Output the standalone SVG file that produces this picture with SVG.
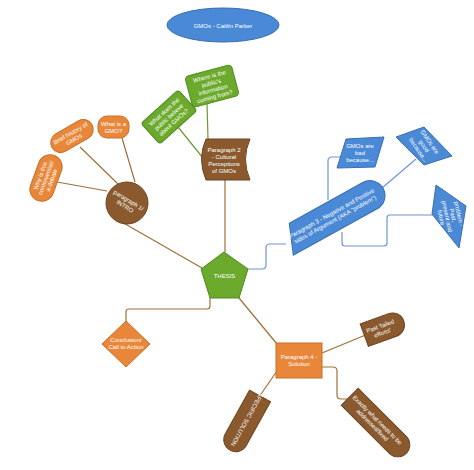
<svg xmlns="http://www.w3.org/2000/svg" width="474" height="470" viewBox="0 0 474 470">
<style>
text{font-family:"Liberation Sans",Arial,sans-serif;fill:#fff;text-anchor:middle;font-size:6px}
.or{fill:#E8873A;stroke:#C96E25;stroke-width:1}
.br{fill:#8A5A2E;stroke:#6E4420;stroke-width:1}
.gr{fill:#6BAA2C;stroke:#4F8A1C;stroke-width:1}
.bl{fill:#4A89D6;stroke:#3A6FB0;stroke-width:1}
.cb{fill:none;stroke:#A07038;stroke-width:1.2}
.cg{fill:none;stroke:#6A9A38;stroke-width:1.2}
.cu{fill:none;stroke:#6E94D8;stroke-width:1.2}
</style>
<rect width="474" height="470" fill="#fff"/>
<g id="connectors">
<line class="cb" x1="135" y1="182" x2="122" y2="138"/>
<line class="cb" x1="118" y1="184" x2="80" y2="147"/>
<line class="cb" x1="107" y1="191" x2="57" y2="182"/>
<line class="cb" x1="120" y1="221" x2="202" y2="268"/>
<line class="cg" x1="208" y1="139" x2="207" y2="103"/>
<line class="cg" x1="203" y1="158" x2="178" y2="127"/>
<line class="cb" x1="225" y1="180" x2="225" y2="252"/>
<path class="cu" d="M248,269 H262 Q266,269 266,265 V248 Q266,244 270,244 H286"/>
<path class="cu" d="M328,200 V161 Q328,157 332,157 H341"/>
<line class="cu" x1="382" y1="188" x2="416" y2="159"/>
<path class="cu" d="M342,232 V243 Q342,246 345,246 H384 Q387,246 387,243 V218 Q387,215 390,215 H434"/>
<path class="cb" d="M210,298 V306 Q210,309 207,309 H129 Q126,309 126,312 V321"/>
<line class="cb" x1="239" y1="298" x2="277" y2="344"/>
<line class="cb" x1="322" y1="353" x2="368" y2="334"/>
<line class="cb" x1="277" y1="371" x2="259" y2="397"/>
<path class="cb" d="M322,367 H333 Q337,367 337,371 V395 Q337,399 341,399 H352"/>
</g>
<g id="title">
<ellipse class="bl" cx="223" cy="25" rx="56" ry="17"/>
<text x="223" y="27.5" font-size="6.5">GMOs - Caitlin Parker</text>
</g>
<g id="intro">
<circle class="br" cx="127" cy="203" r="21"/>
<text transform="translate(127,203) rotate(32)"><tspan x="0" y="-1">paragraph 1/</tspan><tspan x="0" y="6">INTRO</tspan></text>
</g>
<g id="what-gmo">
<rect class="or" x="98" y="116" width="31" height="22" rx="9"/>
<text><tspan x="113.5" y="125.5">What is a</tspan><tspan x="113.5" y="132.5">GMO?</tspan></text>
</g>
<g id="history" transform="translate(72,136) rotate(-30)">
<rect class="or" x="-23" y="-10" width="46" height="20" rx="10"/>
<text><tspan x="0" y="-1">Brief history of</tspan><tspan x="0" y="6">GMOs</tspan></text>
</g>
<g id="why" transform="translate(46,178) rotate(-70)">
<rect class="or" x="-24" y="-12" width="48" height="24" rx="12"/>
<text font-size="5.5"><tspan x="0" y="-4">Why is this</tspan><tspan x="0" y="2">controversial/</tspan><tspan x="0" y="8">a debate</tspan></text>
</g>
<g id="para2">
<path class="br" d="M206,139 L250,139 Q241,159 250,180 L206,180 Q197,159 206,139 Z"/>
<text><tspan x="224" y="152">Paragraph 2</tspan><tspan x="224" y="159">- Cultural</tspan><tspan x="224" y="166">Perceptions</tspan><tspan x="224" y="173">of GMOs</tspan></text>
</g>
<g id="where" transform="translate(212,86) rotate(-15)">
<rect class="gr" x="-24" y="-16" width="48" height="32" rx="4"/>
<text><tspan x="0" y="-8">Where is the</tspan><tspan x="0" y="-1">public's</tspan><tspan x="0" y="6">information</tspan><tspan x="0" y="13">coming from?</tspan></text>
</g>
<g id="believe" transform="translate(169,117) rotate(-42)">
<rect class="gr" x="-25" y="-14" width="50" height="28" rx="3"/>
<text><tspan x="0" y="-5">What does the</tspan><tspan x="0" y="2">public believe</tspan><tspan x="0" y="9">about GMOs?</tspan></text>
</g>
<g id="thesis">
<polygon class="gr" points="224,252 248,269 239,298 210,298 201,269"/>
<text x="224.5" y="278" font-size="6.5">THESIS</text>
</g>
<g id="para3" transform="translate(335,215) rotate(-29)">
<path class="bl" d="M-56,15 L-44,-15 L40,-15 A15 15 0 0 1 40,15 Z"/>
<text font-size="5.8"><tspan x="-2" y="-1">Paragraph 3 - Negative and Positive</tspan><tspan x="-2" y="6">sides of Argument (AKA "problem")</tspan></text>
</g>
<g id="bad">
<polygon class="bl" points="346,139 384,137 375,167 337,168"/>
<text><tspan x="360" y="148">GMOs are</tspan><tspan x="360" y="155">bad</tspan><tspan x="360" y="162">because...</tspan></text>
</g>
<g id="good">
<polygon class="bl" points="396,137 424,127 452,156 424,165"/>
<text transform="translate(424,146) rotate(55)"><tspan x="0" y="-5">GMOs are</tspan><tspan x="0" y="2">good</tspan><tspan x="0" y="9">because...</tspan></text>
</g>
<g id="problem">
<polygon class="bl" points="436,185 466,206 459,248 432,214"/>
<text transform="translate(449,216) rotate(78)" font-size="5.5"><tspan x="0" y="-8">problem -</tspan><tspan x="0" y="-2">Past,</tspan><tspan x="0" y="4">present and</tspan><tspan x="0" y="10">future</tspan></text>
</g>
<g id="conclusion">
<polygon class="or" points="126,321 150,344 126,367 102,344"/>
<text><tspan x="126" y="342">Conclusion/</tspan><tspan x="126" y="349">Call to Action</tspan></text>
</g>
<g id="para4">
<rect class="or" x="276" y="343" width="46" height="35"/>
<text><tspan x="299" y="359">Paragraph 4 -</tspan><tspan x="299" y="366">Solution</tspan></text>
</g>
<g id="past" transform="translate(384,328) rotate(-20)">
<path class="br" d="M-21,-12 L9,-12 A12 12 0 0 1 9,12 L-21,12 Z"/>
<text><tspan x="-3" y="-1">Past 'failed</tspan><tspan x="-3" y="6">efforts'</tspan></text>
</g>
<g id="exactly" transform="translate(378,425) rotate(45)">
<path class="br" d="M-40,-12 L28,-12 A12 12 0 0 1 28,12 L-40,12 Z"/>
<text><tspan x="-4" y="-1">Exactly what needs to be</tspan><tspan x="-4" y="6">addressed/fixed</tspan></text>
</g>
<g id="specific" transform="translate(245,423) rotate(119)">
<path class="br" d="M-31,-12 L19,-12 A12 12 0 0 1 19,12 L-31,12 Z"/>
<text x="-4" y="2">SPECIFIC SOLUTION</text>
</g>
</svg>
